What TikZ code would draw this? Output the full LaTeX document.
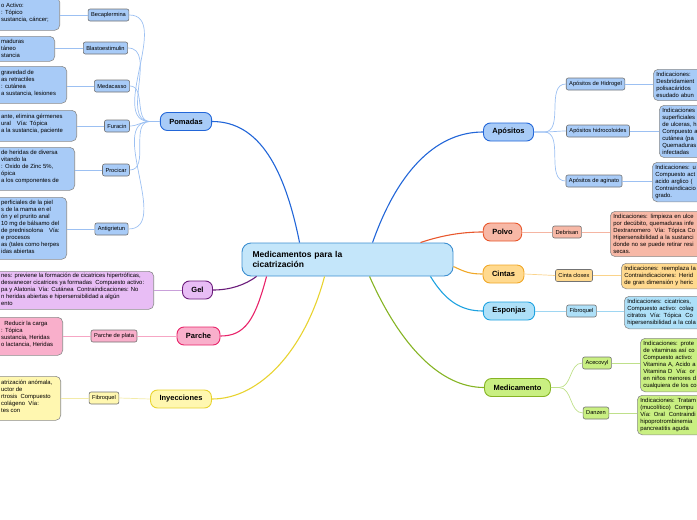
\documentclass[tikz,border=0pt]{standalone}
\usepackage{fontspec}
\setmainfont{Liberation Sans}
\definecolor{pomB}{HTML}{2266D8}\definecolor{pomF}{HTML}{A8CBF7}\definecolor{pomL}{HTML}{9CC0F2}
\definecolor{gelB}{HTML}{6A1B7A}\definecolor{gelF}{HTML}{E8BDF5}\definecolor{gelL}{HTML}{C9A0DA}
\definecolor{parB}{HTML}{E8246A}\definecolor{parF}{HTML}{F9AFCB}\definecolor{parL}{HTML}{F6A6C4}
\definecolor{inyB}{HTML}{E8D330}\definecolor{inyF}{HTML}{FFF7B0}\definecolor{inyL}{HTML}{F3EBA8}
\definecolor{polB}{HTML}{E8572C}\definecolor{polF}{HTML}{F7B8A6}\definecolor{polL}{HTML}{F5B5A2}
\definecolor{cinB}{HTML}{F0A828}\definecolor{cinF}{HTML}{FFD98E}\definecolor{cinL}{HTML}{FAD38A}
\definecolor{espB}{HTML}{1EA2E0}\definecolor{espF}{HTML}{AEE0F8}\definecolor{espL}{HTML}{9ED6F2}
\definecolor{medB}{HTML}{86B424}\definecolor{medF}{HTML}{C9EF82}\definecolor{medL}{HTML}{BFE08A}
\definecolor{cenF}{HTML}{C4E6FA}\definecolor{cenB}{HTML}{3D8FD0}
\tikzset{
  branch/.style={draw=#1B,fill=#1F,line width=0.9pt,rounded corners=7pt,minimum height=18pt,inner xsep=9pt,font=\fontsize{7.5}{9}\selectfont\bfseries},
  sub/.style={draw=black!55,fill=#1F,line width=0.6pt,rounded corners=2pt,minimum height=12pt,inner xsep=3pt,inner ysep=1pt,font=\fontsize{5.7}{6.5}\selectfont},
  leaf/.style={draw=black!45,fill=#1F,line width=0.6pt,rounded corners=5pt,inner sep=3pt,font=\fontsize{5.9}{7}\selectfont,text width=120pt,anchor=north west},
  leafbox/.style={draw=black!45,fill=#1F,line width=0.6pt,rounded corners=5pt,inner sep=0pt,anchor=north east},
  leaftext/.style={inner sep=0pt,anchor=north west,align=left,font=\fontsize{5.9}{7}\selectfont},
  mainline/.style={draw=#1B,line width=1.1pt},
  subline/.style={draw=#1L,line width=0.7pt},
}
\begin{document}
\begin{tikzpicture}[x=1pt,y=-1pt]
\useasboundingbox (0,0) rectangle (697,520);
% centre
\node[draw=cenB,fill=cenF,line width=0.9pt,rounded corners=9pt,minimum width=211pt,minimum height=33pt,text width=190pt,align=left,font=\fontsize{8.5}{10.5}\selectfont\bfseries] (cen) at (347.5,259.5) {Medicamentos para la\\cicatrización};
% branches
\node[branch=pom] (pom) at (186,121.5) {Pomadas};
\node[branch=gel] (gel) at (197.5,290) {Gel};
\node[branch=par] (par) at (198.5,336) {Parche};
\node[branch=iny] (iny) at (181,399) {Inyecciones};
\node[branch=pom] (apo) at (508.5,132) {Apósitos};
\node[branch=pol] (pol) at (502.5,232) {Polvo};
\node[branch=cin] (cin) at (503.5,274) {Cintas};
\node[branch=esp] (esp) at (509,311) {Esponjas};
\node[branch=med] (med) at (517.5,387.5) {Medicamento};
\draw[mainline=pom] (cen.north west)++(58,0) .. controls (285,170) and (260,121.5) .. (pom.east);
\draw[mainline=pom] (cen.north west)++(131,0) .. controls (400,165) and (440,132) .. (apo.west);
\draw[mainline=gel] (cen.south west)++(15,0) .. controls (245,285) and (230,290) .. (gel.east);
\draw[mainline=par] (cen.south west)++(25,0) .. controls (255,320) and (245,336) .. (par.east);
\draw[mainline=iny] (cen.south west)++(83,0) .. controls (305,350) and (260,399) .. (iny.east);
\draw[mainline=pol] (cen.north east)++(-33,0) .. controls (440,236) and (460,232) .. (pol.west);
\draw[mainline=cin] (cen.east)++(0,7) .. controls (465,272) and (470,274) .. (cin.west);
\draw[mainline=esp] (cen.south east)++(-23,0) .. controls (445,300) and (460,311) .. (esp.west);
\draw[mainline=med] (cen.south west)++(128,0) .. controls (400,345) and (440,387.5) .. (med.west);
% Pomadas
\node[sub=pom] (bec) at (108.5,15) {Becaplermina};
\node[sub=pom] (bla) at (105.5,48) {Blastoestimulin};
\node[sub=pom] (mda) at (112,86) {Medacasso};
\node[sub=pom] (fur) at (117,126) {Furacin};
\node[sub=pom] (pro) at (116,170) {Procicar};
\node[sub=pom] (ant) at (111.5,229) {Antigrietun};
\foreach \s in {bec,bla,mda,fur,pro,ant}
  \draw[subline=pom] (pom.west) -- ++(-10,0) to[out=180,in=0] (\s.east);
\node[leafbox=pom,minimum width=80pt,minimum height=33pt] (lbec) at (60,-3) {};
\node[leaftext] at (1,3) {o Activo:\\: Tópico\\sustancia, cáncer;};
\node[leafbox=pom,minimum width=75pt,minimum height=25pt] (lbla) at (55,36) {};
\node[leaftext] at (1,39) {maduras\\táneo\\stancia};
\node[leafbox=pom,minimum width=87pt,minimum height=37pt] (lmda) at (67,66) {};
\node[leaftext] at (1,70) {gravedad de\\as retractiles\\: cutánea\\a sustancia, lesiones};
\node[leafbox=pom,minimum width=97pt,minimum height=31pt] (lfur) at (77,110) {};
\node[leaftext] at (1,114) {ante, elimina gérmenes\\ural\quad Vía: Tópica\\a la sustancia, paciente};
\node[leafbox=pom,minimum width=95pt,minimum height=43pt] (lpro) at (75,147) {};
\node[leaftext] at (1,150) {de heridas de diversa\\vitando la\\: Oxido de Zinc 5\%,\\ópica\\a los componentes de};
\node[leafbox=pom,minimum width=87pt,minimum height=62pt] (lant) at (67,197) {};
\node[leaftext] at (1,200) {perficiales de la piel\\s de la mama en el\\ón y el prurito anal\\10 mg de bálsamo del\\de prednisolona\quad Vía:\\e procesos\\as (tales como herpes\\idas abiertas};
\foreach \s in {bec,bla,mda,fur,pro,ant}
  \draw[subline=pom] (\s.west) -- (l\s.east |- \s.west);
% Gel
\node[leafbox=gel,minimum width=174pt,minimum height=38pt] (lgel) at (154,271) {};
\node[leaftext] at (1,273) {nes: previene la formación de cicatrices hipertróficas,\\desvanecer cicatrices ya formadas\ \ Compuesto activo:\\pa y Alatonia\ \ Vía: Cutánea\ \ Contraindicaciones: No\\n heridas abiertas e hipersensibilidad a algún\\ento};
\draw[subline=gel] (gel.west) -- (lgel.east |- gel.west);
% Parche
\node[sub=par] (pdp) at (114,336) {Parche de plata};
\node[leafbox=par,minimum width=83pt,minimum height=38pt] (lpdp) at (63,317) {};
\node[leaftext] at (1,321) {\ \ Reducir la carga\\: Tópica\\sustancia, Heridas\\o lactancia, Heridas};
\draw[subline=par] (par.west) -- (pdp.east);
\draw[subline=par] (pdp.west) -- (lpdp.east |- pdp.west);
% Inyecciones
\node[sub=iny] (fbi) at (104,398) {Fibroquel};
\node[leafbox=iny,minimum width=81pt,minimum height=44pt] (lfbi) at (61,376) {};
\node[leaftext] at (1,380) {atrización anómala,\\uctor de\\rtrosis\ \ Compuesto\\colágeno\ \ Vía:\\tes con};
\draw[subline=iny] (iny.west) -- (fbi.east);
\draw[subline=iny] (fbi.west) -- (lfbi.east |- fbi.west);
% Apositos
\node[sub=pom] (hid) at (595.5,84) {Apósitos de Hidrogel};
\node[sub=pom] (hco) at (598,131) {Apósitos hidrocoloides};
\node[sub=pom] (agi) at (594,181) {Apósitos de aginato};
\foreach \s in {hid,hco,agi}
  \draw[subline=pom] (apo.east) -- ++(10,0) to[out=0,in=180] (\s.west);
\node[leaf=pom] (lhid) at (653,69) {Indicaciones:\\Desbridamient\\polisacáridos\\esudado abun};
\node[leaf=pom] (lhco) at (659,105) {Indicaciones\\superficiales\\de ulceras, h\\Compuesto a\\cutánea (pa\\Quemaduras\\infectadas};
\node[leaf=pom] (lagi) at (652,162) {Indicaciones: u\\Compuesto act\\acido arglico (\\Contraindicacio\\grado.};
\foreach \s in {hid,hco,agi}
  \draw[subline=pom] (\s.east) -- (l\s.west |- \s.east);
% Polvo, Cintas, Esponjas
\node[sub=pol] (deb) at (567,232) {Debrisan};
\node[leaf=pol] (ldeb) at (610,211) {Indicaciones: limpieza en ulce\\por decúbito, quemaduras infe\\Dextranomero\ \ Vía: Tópica Co\\Hipersensibilidad a la sustanci\\donde no se puede retirar resi\\secas.};
\node[sub=cin] (clx) at (574,275.5) {Cinta cloxex};
\node[leaf=cin] (lclx) at (621,263) {Indicaciones: reemplaza la\\Contraindicaciones: Herid\\de gran dimensión y heric};
\node[sub=esp] (fbe) at (581.5,311) {Fibroquel};
\node[leaf=esp] (lfbe) at (624,296) {Indicaciones: cicatrices,\\Compuesto activo: colag\\citratos\ \ Vía: Tópica\ \ Co\\hipersensibilidad a la cola};
\draw[subline=pol] (pol.east) -- (deb.west);
\draw[subline=pol] (deb.east) -- (ldeb.west |- deb.east);
\draw[subline=cin] (cin.east) -- (clx.west);
\draw[subline=cin] (clx.east) -- (lclx.west |- clx.east);
\draw[subline=esp] (esp.east) -- (fbe.west);
\draw[subline=esp] (fbe.east) -- (lfbe.west |- fbe.east);
% Medicamento
\node[sub=med] (ace) at (597,363) {Acecovyl};
\node[sub=med] (dan) at (596,413) {Danzen};
\foreach \s in {ace,dan}
  \draw[subline=med] (med.east) -- ++(8,0) to[out=0,in=180] (\s.west);
\node[leaf=med] (lace) at (640,338) {Indicaciones: prote\\de vitaminas así co\\Compuesto activo:\\Vitamina A, Acido a\\Vitamina D\ \ Vía: or\\en niños menores d\\cualquiera de los co};
\node[leaf=med] (ldan) at (637,395) {Indicaciones: Tratam\\(mucolítico)\ \ Compu\\Vía: Oral\ \ Contraindi\\hipoprotrombinemia\\pancreatitis aguda};
\foreach \s in {ace,dan}
  \draw[subline=med] (\s.east) -- (l\s.west |- \s.east);
\end{tikzpicture}
\end{document}
